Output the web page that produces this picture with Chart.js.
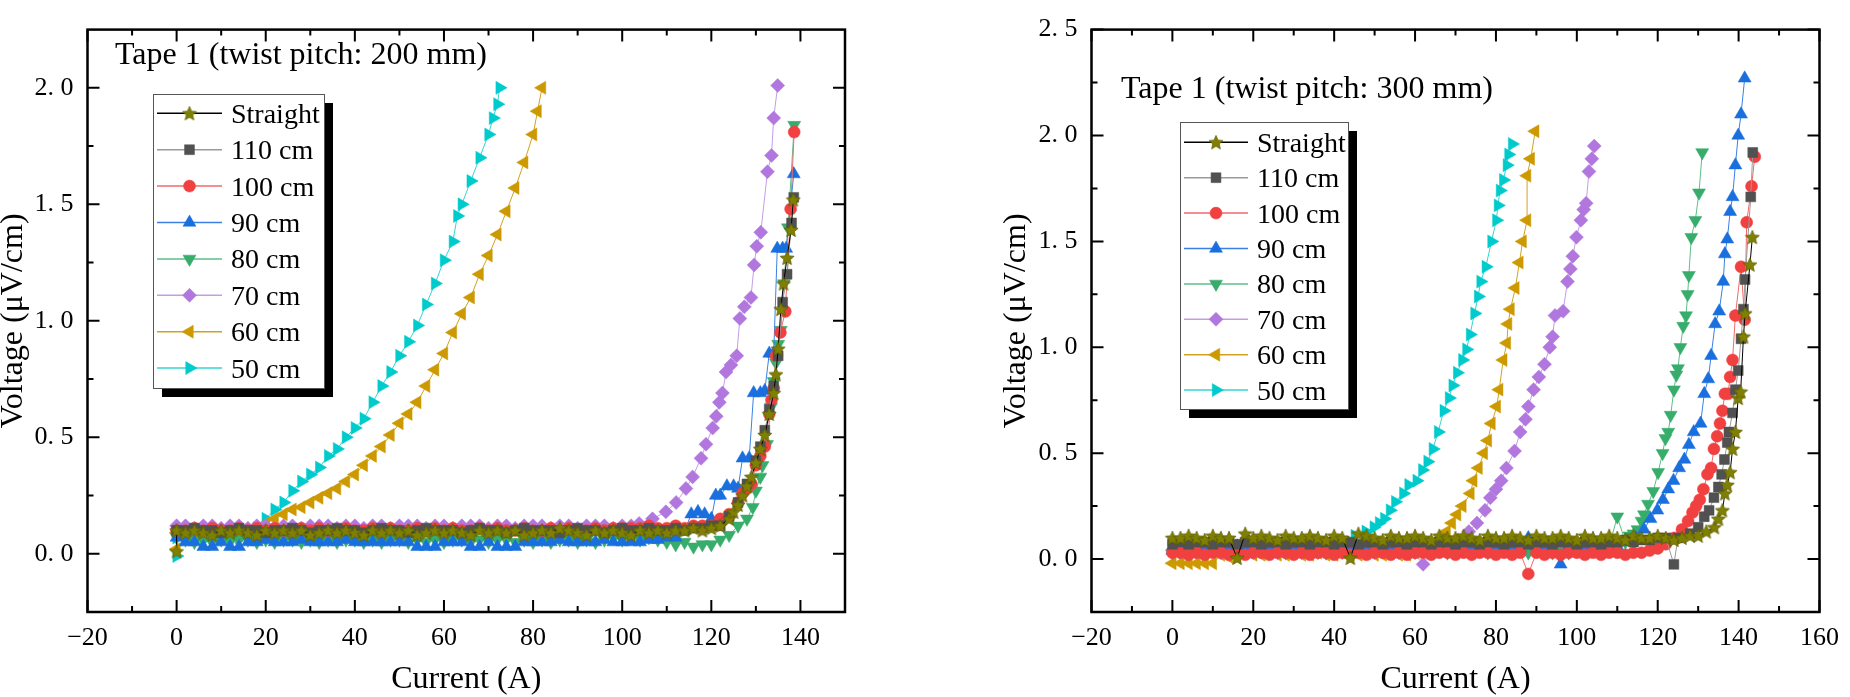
<!DOCTYPE html>
<html><head><meta charset="utf-8">
<script src="https://cdn.jsdelivr.net/npm/chart.js@4.4.0/dist/chart.umd.min.js"></script>
<style>
html,body{margin:0;padding:0;background:#fff;}
#wrap{position:relative;width:1850px;height:697px;overflow:hidden;background:#fff;}
.box{position:absolute;top:0;height:697px;}
#b1{left:0;width:925px;} #b2{left:990px;width:860px;}
</style></head><body>
<div id="wrap"><div class="box" id="b1"><canvas id="c1"></canvas></div><div class="box" id="b2"><canvas id="c2"></canvas></div></div>
<script>
// ---------- common labels ----------
const names = ['Straight','110 cm','100 cm','90 cm','80 cm','70 cm','60 cm','50 cm'];

// ---------- Tape 1, twist pitch 200 mm ----------
const I200 = [2,4,6,8,10,12,14,16,18,20,22,24,26,28,30,32,34,36,38,40,42,44,46,48,50,52,54,56,58,60,62,64,66,68,70,72,74,76,78,80,82,84,86,88,90,92,94,96,98,100,102,104,106,108,110,112,114,116,118,120];

const st200_V0 = [0.01,0.1];
const st200_Vf = [0.09,0.1,0.09,0.08,0.1,0.09,0.1,0.09,0.08,0.1,0.09,0.1,0.09,0.1,0.08,0.09,0.1,0.09,0.1,0.09,0.08,0.1,0.09,0.1,0.09,0.1,0.08,0.09,0.1,0.09,0.1,0.09,0.08,0.1,0.09,0.1,0.09,0.1,0.08,0.09,0.1,0.09,0.11,0.1,0.09,0.08,0.1,0.09,0.1,0.09,0.08,0.1,0.09,0.1,0.09,0.1,0.1,0.11,0.1,0.11];
const st200_Ir = [122,124,125,126,127,128,129,130,131,132,133,134,134.5,135,135.6,136.2,137,137.9,138.4];
const st200_Vr = [0.12,0.15,0.18,0.21,0.25,0.29,0.33,0.39,0.45,0.51,0.6,0.69,0.77,0.88,1.05,1.16,1.27,1.39,1.52];

const k200_V0 = [0.1];
const k200_Vf = [0.1,0.11,0.1,0.1,0.09,0.1,0.11,0.1,0.1,0.09,0.1,0.1,0.11,0.1,0.09,0.1,0.1,0.11,0.1,0.1,0.09,0.1,0.11,0.1,0.1,0.09,0.1,0.11,0.1,0.1,0.1,0.09,0.1,0.11,0.1,0.1,0.09,0.1,0.11,0.1,0.1,0.1,0.09,0.1,0.11,0.1,0.1,0.09,0.1,0.11,0.1,0.1,0.11,0.1,0.1,0.11,0.1,0.11,0.11,0.12];
const k200_Ir = [122,124,126,128,130,131,132,133,134,135,136,137,138,138.5];
const k200_Vr = [0.12,0.16,0.22,0.3,0.4,0.46,0.53,0.62,0.72,0.85,1.08,1.2,1.42,1.53];

const r200_V0 = [0.1];
const r200_Vf = [0.1,0.11,0.1,0.11,0.1,0.1,0.11,0.1,0.11,0.1,0.11,0.1,0.1,0.11,0.1,0.11,0.1,0.1,0.11,0.1,0.1,0.11,0.1,0.11,0.1,0.1,0.11,0.1,0.11,0.1,0.11,0.1,0.1,0.11,0.1,0.11,0.1,0.1,0.11,0.1,0.1,0.11,0.1,0.11,0.1,0.1,0.11,0.1,0.11,0.11,0.11,0.11,0.12,0.11,0.11,0.12,0.11,0.12,0.12];
const r200_Ir = [120,122,124,126,127,128,129,130,131,132,133,133.5,134,134.5,135.5,136.6,137.8,138.6];
const r200_Vr = [0.12,0.15,0.17,0.22,0.26,0.28,0.3,0.38,0.42,0.46,0.6,0.66,0.71,0.85,0.95,1.04,1.48,1.81];

const b200_V0 = [0.07];
const b200_Vf = [0.05,0.05,0.03,0.03,0.05,0.03,0.03,0.05,0.05,0.06,0.05,0.05,0.05,0.06,0.05,0.05,0.05,0.05,0.06,0.05,0.05,0.05,0.05,0.05,0.05,0.05,0.03,0.03,0.03,0.05,0.05,0.05,0.03,0.03,0.05,0.03,0.03,0.03,0.05,0.05,0.05,0.05,0.06,0.05,0.05,0.05,0.05,0.06,0.05,0.05,0.05,0.05,0.06,0.06,0.07,0.07];
const b200_Ir = [114,115.5,117,118.5,120,121,122,123.5,125,126,127,128.5,129.5,131,132,133,134,134.8,136,136.8,138.5];
const b200_Vr = [0.1,0.17,0.18,0.17,0.15,0.25,0.25,0.29,0.29,0.28,0.41,0.41,0.69,0.69,0.7,0.86,0.86,1.31,1.31,1.31,1.63];

const g200_V0 = [0.07];
const g200_Vf = [0.06,0.05,0.06,0.05,0.06,0.05,0.06,0.06,0.05,0.06,0.05,0.06,0.06,0.05,0.06,0.05,0.06,0.05,0.06,0.06,0.05,0.06,0.05,0.06,0.06,0.05,0.06,0.05,0.06,0.05,0.06,0.06,0.05,0.06,0.05,0.06,0.06,0.05,0.06,0.05,0.06,0.05,0.06,0.06,0.05,0.06,0.05,0.06,0.07,0.06,0.07,0.06,0.07,0.06,0.05,0.04,0.05,0.03,0.04];
const g200_Ir = [120,122,124,126,128,129.3,130,131,131.5,132.5,133.4,134,134.5,135,135.6,136.3,137.2,138.6];
const g200_Vr = [0.04,0.06,0.08,0.12,0.15,0.2,0.27,0.33,0.38,0.47,0.63,0.74,0.82,0.9,0.96,1.16,1.4,1.84];

const p200_V0 = [0.12];
const p200_Vf = [0.12,0.11,0.12,0.12,0.11,0.12,0.12,0.11,0.12,0.12,0.11,0.12,0.12,0.11,0.12,0.12,0.12,0.11,0.12,0.12,0.11,0.12,0.12,0.11,0.12,0.12,0.12,0.11,0.12,0.12,0.11,0.12,0.12,0.12,0.11,0.12,0.12,0.11,0.12,0.12,0.12,0.11,0.12,0.12,0.11,0.12,0.12,0.12,0.11,0.12,0.12];
const p200_Ir = [103.8,106.8,109.8,112.1,114.3,115.8,117.7,118.8,120.3,121.1,121.8,122.5,123.3,124.4,125.7,126.4,127.4,128.9,129.6,130.2,131.1,132.6,133.5,134,134.9];
const p200_Vr = [0.13,0.15,0.18,0.22,0.28,0.33,0.41,0.47,0.54,0.59,0.65,0.69,0.78,0.81,0.85,1.01,1.06,1.1,1.24,1.32,1.38,1.64,1.71,1.87,2.01];

const o200_V0 = [0.02,0.09];
const o200_Vf = [0.08,0.09,0.09,0.08,0.09,0.09,0.08,0.09];
const o200_Ir = [18,20,22,24,26,28,30,32,34,36,38,40,42,44,46,48,50,52,54,56,58,60,62,64,66,68,70,72,74,76,78,80,81,82];
const o200_Vr = [0.1,0.13,0.15,0.17,0.19,0.2,0.22,0.24,0.26,0.28,0.31,0.34,0.38,0.42,0.46,0.51,0.56,0.6,0.65,0.72,0.79,0.86,0.95,1.03,1.1,1.2,1.28,1.37,1.47,1.57,1.68,1.8,1.9,2.0];

const c200_V0 = [-0.01,0.07];
const c200_Vf = [0.06,0.07,0.06,0.07,0.06,0.07,0.07];
const c200_Ir = [16,18,20,22,24,26,28,30,32,34,36,38,40,42,44,46,48,50,52,54,56,58,60,62,63,64,66,68,70,71,72,72.5];
const c200_Vr = [0.09,0.11,0.15,0.19,0.22,0.27,0.31,0.34,0.37,0.42,0.45,0.5,0.54,0.58,0.65,0.72,0.78,0.85,0.91,0.98,1.07,1.16,1.26,1.34,1.45,1.5,1.6,1.7,1.8,1.87,1.93,2.0];

// ---------- Tape 1, twist pitch 300 mm ----------
const I300 = [2,4,6,8,10,12,14,16,18,20,22,24,26,28,30,32,34,36,38,40,42,44,46,48,50,52,54,56,58,60,62,64,66,68,70,72,74,76,78,80,82,84,86,88,90,92,94,96,98,100,102,104,106,108,110,112,114,116,118,120,122,124,126,128,130];

const st300_V0 = [0.1];
const st300_Vf = [0.1,0.11,0.1,0.09,0.11,0.1,0.1,0.005,0.12,0.1,0.11,0.1,0.09,0.11,0.1,0.1,0.11,0.1,0.09,0.11,0.1,0.005,0.12,0.11,0.1,0.09,0.11,0.1,0.1,0.11,0.1,0.09,0.11,0.1,0.1,0.11,0.1,0.09,0.11,0.1,0.1,0.11,0.1,0.09,0.11,0.1,0.1,0.11,0.1,0.09,0.11,0.1,0.1,0.11,0.1,0.09,0.11,0.1,0.1,0.11,0.1,0.09,0.1,0.11];
const st300_Ir = [130,132,134,135,136,136.6,137.2,137.9,138.5,139.2,139.9,140.5,141.2,141.6,142.8,143.4];
const st300_Vr = [0.11,0.13,0.15,0.19,0.23,0.31,0.35,0.41,0.52,0.6,0.76,0.79,1.05,1.16,1.39,1.52];

const k300_V0 = [0.07];
const k300_Vf = [0.08,0.07,0.08,0.08,0.07,0.08,0.08,0.07,0.08,0.08,0.07,0.08,0.08,0.07,0.08,0.08,0.07,0.08,0.08,0.07,0.08,0.08,0.07,0.08,0.08,0.07,0.08,0.08,0.07,0.08,0.08,0.07,0.08,0.08,0.07,0.08,0.08,0.07,0.08,0.08,0.07,0.08,0.08,0.07,0.08,0.08,0.07,0.08,0.08,0.07,0.08,0.08,0.07,0.08,0.08,0.09,0.08,0.09,0.09,0.1,0.1,-0.025];
const k300_Ir = [125,128,130,131.5,132.7,133.9,135,135.8,136.5,137.2,137.6,138.5,139.2,139.9,140.6,141.2,141.6,143,143.5];
const k300_Vr = [0.1,0.12,0.15,0.2,0.23,0.29,0.34,0.4,0.47,0.55,0.6,0.69,0.8,0.89,1.04,1.18,1.32,1.71,1.92];

const r300_V0 = [0.03];
const r300_Vf = [0.03,0.02,0.03,0.02,0.03,0.03,0.02,0.03,0.02,0.03,0.03,0.02,0.03,0.03,0.02,0.03,0.02,0.03,0.03,0.02,0.03,0.02,0.03,0.02,0.03,0.03,0.02,0.03,0.02,0.03,0.03,0.02,0.03,0.03,0.02,0.03,0.02,0.03,0.03,0.02,0.03,0.02,0.03,-0.07,0.03,0.02,0.03,0.02,0.03,0.03,0.02,0.03,0.02,0.03,0.03,0.02,0.03,0.03,0.04];
const r300_Ir = [120,122,124,126,127.5,128.6,129.5,130.4,131.3,132.3,133.2,133.9,134.7,135.4,136,136.6,137.4,137.9,138.5,139.2,140.6,141.5,142,143.2,144];
const r300_Vr = [0.05,0.07,0.1,0.14,0.18,0.22,0.25,0.28,0.33,0.4,0.43,0.52,0.58,0.64,0.7,0.78,0.78,0.86,0.94,1.15,1.38,1.13,1.59,1.76,1.9];

const b300_V0 = [0.04];
const b300_Vf = [0.06,0.06,0.05,0.06,0.06,0.06,0.05,0.06,0.06,0.06,0.05,0.06,0.06,0.06,0.05,0.06,0.06,0.06,0.05,0.06,0.06,0.06,0.05,0.06,0.06,0.06,0.05,0.06,0.06,0.06,0.05,0.06,0.06,0.06,0.05,0.06,0.06,0.06,0.05,0.06,0.06,0.06,0.05,0.1,0.06,0.06,0.05,-0.025,0.06,0.06,0.05,0.06,0.06,0.07,0.06,0.08];
const b300_Ir = [114.6,116.6,118.2,119.9,121.3,122.6,123.9,125.3,126.6,127.7,128.9,130.6,131.5,132.5,133.2,134.2,135.2,136.2,136.6,137.2,137.9,138.5,139.2,139.9,140.6,141.5];
const b300_Vr = [0.1,0.14,0.19,0.23,0.28,0.33,0.37,0.43,0.47,0.54,0.6,0.64,0.78,0.85,0.96,1.11,1.17,1.31,1.44,1.51,1.64,1.71,1.86,2.0,2.1,2.27];

const g300_V0 = [0.03];
const g300_Vf = [0.04,0.03,0.04,0.03,0.04,0.04,0.03,0.04,0.03,0.04,0.04,0.03,0.04,0.03,0.04,0.04,0.03,0.04,0.03,0.04,0.04,0.03,0.04,0.03,0.04,0.04,0.03,0.04,0.03,0.04,0.04,0.03,0.04,0.03,0.04,0.04,0.03,0.04,0.03,0.04,0.04,0.03,0.04,0.03,0.04,0.04,0.03,0.04,0.03,0.04,0.04,0.05,0.04,0.06,0.2,0.08];
const g300_Ir = [113,114,115,116,116.6,117.6,118.9,120.1,121.2,121.9,122.6,123.2,124,124.6,125,125.6,126.3,127,127.4,127.7,128.3,129.3,130.2,131];
const g300_Vr = [0.11,0.12,0.14,0.18,0.21,0.26,0.32,0.41,0.5,0.57,0.6,0.68,0.8,0.87,0.9,1.0,1.1,1.15,1.25,1.34,1.52,1.6,1.73,1.92];

const p300_V0 = [0.04];
const p300_Vf = [0.03,0.04,0.03,0.03,0.04,0.03,0.03,0.04,0.03,0.03,0.04,0.03,0.03,0.04,0.03,0.03,0.04,0.03,0.03,0.04,0.03,0.03,0.04,0.03,0.03,0.04,0.03,0.03,0.04,0.03,-0.025,0.04,0.05];
const p300_Ir = [68,70.7,73.3,75.3,77.3,78.6,80,81.3,82.6,84.6,86,87.3,88,89.3,90.6,92,93.3,94,94.6,96.6,97.7,98.4,99,99.9,101,101.7,102.3,103,103.7,104.3];
const p300_Vr = [0.065,0.09,0.13,0.17,0.23,0.29,0.33,0.37,0.43,0.51,0.6,0.66,0.72,0.8,0.86,0.92,1.0,1.05,1.15,1.17,1.31,1.37,1.43,1.52,1.6,1.65,1.68,1.83,1.89,1.95];

const o300_V0 = [-0.02];
const o300_Vf = [-0.02,-0.02,-0.02,-0.02,-0.02,0.02,0.01,0.02,0.03,0.02,0.02,0.03,0.02,0.02,0.03,0.02,0.02,0.03,0.02,0.02,0.03,0.02,0.02,0.03,0.02,0.02,0.03,0.02,0.02,0.03,0.04,0.06];
const o300_Ir = [65.8,67.8,69.1,70.4,71.7,73.7,74.4,75.7,77,78,78.9,80.2,80.8,81.8,82.7,83,83.6,84.8,85.8,86.6,87.7,87.7,88.6,89.7];
const o300_Vr = [0.09,0.13,0.17,0.21,0.25,0.31,0.37,0.43,0.5,0.56,0.64,0.72,0.8,0.94,1.02,1.11,1.18,1.28,1.4,1.5,1.6,1.81,1.89,2.02];

const c300_V0 = [0.05];
const c300_Vf = [0.05,0.06,0.05,0.06,0.05,0.06,0.05,0.06,0.05,0.06,0.05,0.06,0.05,0.06,0.05,0.06,0.05,0.06,0.05,0.06,0.06,0.08];
const c300_Ir = [45.1,47.8,49.8,51.1,52.4,53.8,55.1,57.1,58.4,60.4,61.8,63.1,64.4,65.7,67.1,68.4,69.3,70.4,71.7,72.7,73.6,74.7,75.6,76.2,77.5,78.9,80.1,80.5,81,81.8,82.7,83.1,84];
const c300_Vr = [0.11,0.13,0.15,0.17,0.19,0.23,0.27,0.31,0.35,0.37,0.42,0.46,0.52,0.6,0.7,0.76,0.82,0.88,0.94,0.99,1.06,1.16,1.24,1.31,1.38,1.5,1.6,1.67,1.74,1.79,1.86,1.91,1.96];

// ---------- tick values / labels ----------
const xTicks200 = [-20,0,20,40,60,80,100,120,140];
const xLabels200 = ['\u221220','0','20','40','60','80','100','120','140'];
const xMinor200 = [-10,10,30,50,70,90,110,130];
const xTicks300 = [-20,0,20,40,60,80,100,120,140,160];
const xLabels300 = ['\u221220','0','20','40','60','80','100','120','140','160'];
const xMinor300 = [-10,10,30,50,70,90,110,130,150];
const yTicks200 = [0,0.5,1,1.5,2];
const yLabels200 = ['0. 0','0. 5','1. 0','1. 5','2. 0'];
const yMinor200 = [0.25,0.75,1.25,1.75];
const yTicks300 = [0,0.5,1,1.5,2,2.5];
const yLabels300 = ['0. 0','0. 5','1. 0','1. 5','2. 0','2. 5'];
const yMinor300 = [0.25,0.75,1.25,1.75,2.25];

// ---------- styles ----------
const FONT = "'Liberation Serif', 'Times New Roman', serif";
const markColors = ['#808000','#515151','#F14040','#1A6FDF','#37AD6B','#B177DE','#CC9900','#00CBCC'];
const lineColors = ['#000000','#9a9a9a','#F26A6A','#3A80E2','#5EBE89','#C49DE6','#D2A21E','#35D4D5'];
const pStyles = ['star','rect','circle','triangle','triangle','rectRot','triangle','triangle'];
const pRot = [0,0,0,0,180,0,-90,90];
const pRad = [7,7,6,7.5,7.5,7,7.5,7.5];

function makeStar(size, fill, stroke) {
  const c = document.createElement('canvas'); c.width = size; c.height = size;
  const g = c.getContext('2d');
  const cx = size/2, cy = size/2 + 0.6, R = size/2 - 0.6, r = R*0.45;
  g.beginPath();
  for (let k = 0; k < 10; k++) {
    const ang = -Math.PI/2 + k*Math.PI/5, rr = (k % 2) ? r : R;
    g.lineTo(cx + rr*Math.cos(ang), cy + rr*Math.sin(ang));
  }
  g.closePath(); g.fillStyle = fill; g.fill(); g.strokeStyle = stroke; g.lineWidth = 0.8; g.stroke();
  return c;
}
const starImg = makeStar(16, '#808000', '#5f5f00');

function series(v0, vf, ir, vr, grid) {
  const pts = [];
  v0.forEach(v => pts.push({x: 0, y: v}));
  vf.forEach((v, k) => pts.push({x: grid[k], y: v}));
  ir.forEach((x, k) => pts.push({x: x, y: vr[k]}));
  return pts;
}

const set200 = [
  series(st200_V0, st200_Vf, st200_Ir, st200_Vr, I200),
  series(k200_V0, k200_Vf, k200_Ir, k200_Vr, I200),
  series(r200_V0, r200_Vf, r200_Ir, r200_Vr, I200),
  series(b200_V0, b200_Vf, b200_Ir, b200_Vr, I200),
  series(g200_V0, g200_Vf, g200_Ir, g200_Vr, I200),
  series(p200_V0, p200_Vf, p200_Ir, p200_Vr, I200),
  series(o200_V0, o200_Vf, o200_Ir, o200_Vr, I200),
  series(c200_V0, c200_Vf, c200_Ir, c200_Vr, I200)
];
const set300 = [
  series(st300_V0, st300_Vf, st300_Ir, st300_Vr, I300),
  series(k300_V0, k300_Vf, k300_Ir, k300_Vr, I300),
  series(r300_V0, r300_Vf, r300_Ir, r300_Vr, I300),
  series(b300_V0, b300_Vf, b300_Ir, b300_Vr, I300),
  series(g300_V0, g300_Vf, g300_Ir, g300_Vr, I300),
  series(p300_V0, p300_Vf, p300_Ir, p300_Vr, I300),
  series(o300_V0, o300_Vf, o300_Ir, o300_Vr, I300),
  series(c300_V0, c300_Vf, c300_Ir, c300_Vr, I300)
];

function framePlugin(cfg) {
  return {
    id: 'frame_' + cfg.id,
    afterDraw(chart) {
      const ctx = chart.ctx, a = chart.chartArea, xs = chart.scales.x, ys = chart.scales.y;
      ctx.save();
      ctx.strokeStyle = '#000'; ctx.lineWidth = 2;
      ctx.beginPath();
      const xt = (v, len) => { const p = xs.getPixelForValue(v); ctx.moveTo(p, a.bottom); ctx.lineTo(p, a.bottom - len); ctx.moveTo(p, a.top); ctx.lineTo(p, a.top + len); };
      const yt = (v, len) => { const p = ys.getPixelForValue(v); ctx.moveTo(a.left, p); ctx.lineTo(a.left + len, p); ctx.moveTo(a.right, p); ctx.lineTo(a.right - len, p); };
      cfg.xTicks.forEach(v => xt(v, 12)); cfg.xMinor.forEach(v => xt(v, 6));
      cfg.yTicks.forEach(v => yt(v, 12)); cfg.yMinor.forEach(v => yt(v, 6));
      ctx.stroke();
      ctx.lineWidth = 2.5;
      ctx.strokeRect(a.left, a.top, a.right - a.left, a.bottom - a.top);
      // annotation
      ctx.fillStyle = '#000'; ctx.textAlign = 'left'; ctx.textBaseline = 'alphabetic';
      ctx.font = '32px ' + FONT;
      ctx.fillText(cfg.note, cfg.noteX, cfg.noteY);
      // legend
      const L = cfg.legend;
      ctx.fillStyle = '#000'; ctx.fillRect(L.x + 9, L.y + 9, L.w, L.h);
      ctx.fillStyle = '#fff'; ctx.fillRect(L.x, L.y, L.w, L.h);
      ctx.strokeStyle = '#555'; ctx.lineWidth = 1; ctx.strokeRect(L.x + 0.5, L.y + 0.5, L.w, L.h);
      ctx.font = '28px ' + FONT;
      chart.data.datasets.forEach((ds, i) => {
        const cy = L.row0 + i * L.step;
        ctx.strokeStyle = ds.borderColor; ctx.lineWidth = 1.5;
        ctx.beginPath(); ctx.moveTo(L.lx0, cy); ctx.lineTo(L.lx1, cy); ctx.stroke();
        ctx.fillStyle = ds.pointBackgroundColor; ctx.strokeStyle = ds.pointBorderColor; ctx.lineWidth = 0.5;
        Chart.helpers.drawPoint(ctx, {pointStyle: ds.pointStyle, rotation: ds.pointRotation || 0, radius: ds.pointRadius, borderWidth: 0.5}, L.mx, cy);
        ctx.fillStyle = '#000';
        ctx.fillText(ds.label, L.tx, cy + 9.5);
      });
      ctx.restore();
    }
  };
}

function makeChart(cfg) {
  return new Chart(document.getElementById(cfg.id), {
    type: 'scatter',
    data: {
      datasets: cfg.sets.map((pts, i) => ({
        label: names[i], data: pts, showLine: true,
        borderColor: lineColors[i], borderWidth: 1, tension: 0,
        pointStyle: i === 0 ? starImg : pStyles[i], pointRotation: pRot[i],
        pointRadius: pRad[i], pointHoverRadius: pRad[i],
        backgroundColor: markColors[i], pointBackgroundColor: markColors[i],
        pointBorderColor: markColors[i], pointBorderWidth: 0.5
      }))
    },
    options: {
      responsive: true, maintainAspectRatio: false, animation: false, events: [],
      layout: {padding: {left: 0, top: cfg.padTop, right: cfg.padRight, bottom: 0}},
      plugins: {legend: {display: false}, tooltip: {enabled: false}},
      scales: {
        x: {
          type: 'linear', position: 'bottom', min: -20, max: cfg.xMax,
          afterBuildTicks: ax => { ax.ticks = cfg.xTicks.map(v => ({value: v})); },
          afterFit: ax => { ax.height = 85; },
          grid: {display: false, drawTicks: false}, border: {display: false},
          ticks: {autoSkip: false, maxRotation: 0, padding: 11, color: '#000', font: {family: FONT, size: 26}, callback: (v, k) => cfg.xLabels[k]},
          title: {display: true, text: 'Current (A)', color: '#000', font: {family: FONT, size: 32, lineHeight: 1.0}, padding: {top: 0, bottom: 1}}
        },
        y: {
          type: 'linear', position: 'left', min: -0.25, max: cfg.yMax,
          afterBuildTicks: ax => { ax.ticks = cfg.yTicks.map(v => ({value: v})); },
          afterFit: ax => { ax.width = cfg.yWidth; },
          grid: {display: false, drawTicks: false}, border: {display: false},
          ticks: {autoSkip: false, padding: 14, color: '#000', font: {family: FONT, size: 26}, callback: (v, k) => cfg.yLabels[k]},
          title: {display: true, text: 'Voltage (μV/cm)', color: '#000', font: {family: FONT, size: 32, lineHeight: 0.7}, padding: {top: cfg.yTitlePad, bottom: 0}}
        }
      }
    },
    plugins: [framePlugin(cfg)]
  });
}

makeChart({
  id: 'c1', sets: set200, xMax: 150, yMax: 2.25, padTop: 1, padRight: 80, yWidth: 87.5, yTitlePad: 2,
  xTicks: xTicks200, xLabels: xLabels200, xMinor: xMinor200,
  yTicks: yTicks200, yLabels: yLabels200, yMinor: yMinor200,
  note: 'Tape 1 (twist pitch: 200 mm)', noteX: 115, noteY: 64,
  legend: {x: 153, y: 94, w: 171, h: 294, row0: 113.3, step: 36.4, lx0: 157, lx1: 222, mx: 189.5, tx: 231}
});
makeChart({
  id: 'c2', sets: set300, xMax: 160, yMax: 2.5, padTop: 14, padRight: 17, yWidth: 101.5, yTitlePad: 15,
  xTicks: xTicks300, xLabels: xLabels300, xMinor: xMinor300,
  yTicks: yTicks300, yLabels: yLabels300, yMinor: yMinor300,
  note: 'Tape 1 (twist pitch: 300 mm)', noteX: 131, noteY: 98,
  legend: {x: 190, y: 122, w: 168, h: 287, row0: 142.3, step: 35.4, lx0: 194, lx1: 258, mx: 226, tx: 267}
});
</script>
</body></html>
